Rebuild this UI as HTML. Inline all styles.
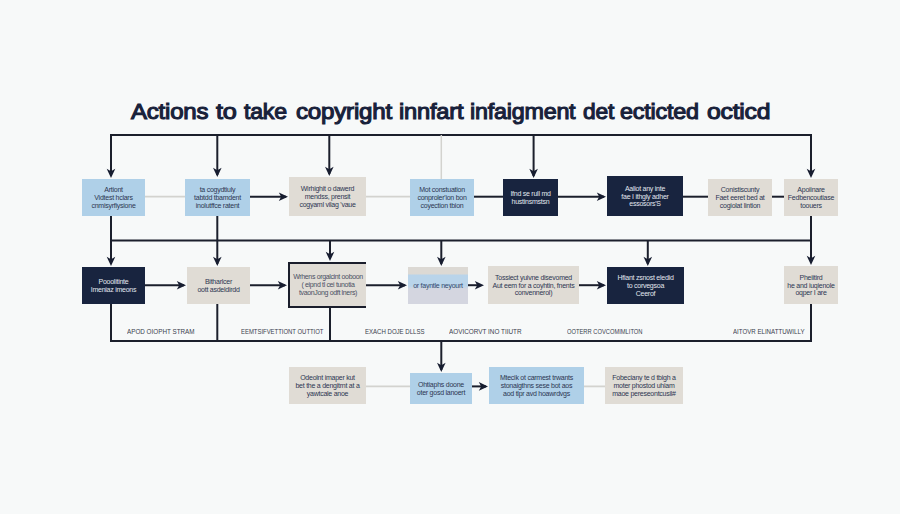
<!DOCTYPE html>
<html><head><meta charset="utf-8"><style>
html,body{margin:0;padding:0;}
body{width:900px;height:514px;background:#f7f9f9;position:relative;overflow:hidden;font-family:"Liberation Sans",sans-serif;}
.tw{position:absolute;top:97px;font-size:22px;letter-spacing:-0.2px;font-weight:normal;-webkit-text-stroke:1.1px #18213a;line-height:30px;color:#18213a;white-space:nowrap;transform-origin:0 0;}
.b{position:absolute;box-sizing:border-box;padding-top:1px;display:flex;flex-direction:column;justify-content:center;align-items:center;font-size:7px;line-height:7.8px;letter-spacing:-0.25px;color:#2d3652;white-space:nowrap;}
.lb{position:absolute;top:327px;height:9px;font-size:7.5px;line-height:9px;color:#3a3e4e;white-space:nowrap;transform-origin:0 0;}
svg{position:absolute;left:0;top:0;}
</style></head><body>
<svg width="900" height="514" viewBox="0 0 900 514"><line x1="110" y1="135" x2="812" y2="135" stroke="#1b1f2c" stroke-width="2"/><line x1="111" y1="134" x2="111" y2="176" stroke="#1b1f2c" stroke-width="2"/><path d="M111.0 178.0 L106.7 168.8 L111.0 171.2 L115.3 168.8 Z" fill="#171d30"/><line x1="217.3" y1="134" x2="217.3" y2="175" stroke="#1b1f2c" stroke-width="2"/><path d="M217.3 177.0 L213.0 167.8 L217.3 170.2 L221.6 167.8 Z" fill="#171d30"/><line x1="329.3" y1="134" x2="329.3" y2="174" stroke="#1b1f2c" stroke-width="2"/><path d="M329.3 176.0 L325.0 166.8 L329.3 169.2 L333.6 166.8 Z" fill="#171d30"/><line x1="533.6" y1="134" x2="533.6" y2="176" stroke="#1b1f2c" stroke-width="2"/><path d="M533.6 178.0 L529.3 168.8 L533.6 171.2 L537.9 168.8 Z" fill="#171d30"/><line x1="811" y1="134" x2="811" y2="176" stroke="#1b1f2c" stroke-width="2"/><path d="M811.0 178.0 L806.7 168.8 L811.0 171.2 L815.3 168.8 Z" fill="#171d30"/><line x1="441.3" y1="135" x2="441.3" y2="179" stroke="#d3d3cf" stroke-width="1.5"/><line x1="145" y1="196.7" x2="185" y2="196.7" stroke="#d3d3cf" stroke-width="1.8"/><line x1="250" y1="196.7" x2="286" y2="196.7" stroke="#1b1f2c" stroke-width="2"/><path d="M288.0 196.7 L278.8 192.4 L281.2 196.7 L278.8 201.0 Z" fill="#171d30"/><line x1="366" y1="196.7" x2="410" y2="196.7" stroke="#d3d3cf" stroke-width="1.8"/><line x1="474" y1="196.7" x2="503" y2="196.7" stroke="#1b1f2c" stroke-width="2"/><line x1="558" y1="196.7" x2="604" y2="196.7" stroke="#1b1f2c" stroke-width="2"/><path d="M606.0 196.7 L596.8 192.4 L599.2 196.7 L596.8 201.0 Z" fill="#171d30"/><line x1="683" y1="196.7" x2="708" y2="196.7" stroke="#1b1f2c" stroke-width="2"/><line x1="772" y1="196.7" x2="784" y2="196.7" stroke="#1b1f2c" stroke-width="2"/><line x1="111" y1="216" x2="111" y2="264" stroke="#1b1f2c" stroke-width="2"/><path d="M111.0 266.0 L106.7 256.8 L111.0 259.2 L115.3 256.8 Z" fill="#171d30"/><line x1="217.3" y1="216" x2="217.3" y2="264" stroke="#1b1f2c" stroke-width="2"/><path d="M217.3 266.0 L213.0 256.8 L217.3 259.2 L221.6 256.8 Z" fill="#171d30"/><line x1="811" y1="216" x2="811" y2="263" stroke="#1b1f2c" stroke-width="2"/><path d="M811.0 265.0 L806.7 255.8 L811.0 258.2 L815.3 255.8 Z" fill="#171d30"/><line x1="110" y1="240.4" x2="812" y2="240.4" stroke="#1b1f2c" stroke-width="2"/><line x1="330" y1="240" x2="330" y2="259" stroke="#1b1f2c" stroke-width="2"/><path d="M330.0 261.0 L325.7 251.8 L330.0 254.2 L334.3 251.8 Z" fill="#171d30"/><line x1="441.3" y1="240" x2="441.3" y2="264" stroke="#1b1f2c" stroke-width="2"/><path d="M441.3 266.0 L437.0 256.8 L441.3 259.2 L445.6 256.8 Z" fill="#171d30"/><line x1="647.8" y1="240" x2="647.8" y2="264" stroke="#1b1f2c" stroke-width="2"/><path d="M647.8 266.0 L643.5 256.8 L647.8 259.2 L652.1 256.8 Z" fill="#171d30"/><line x1="145" y1="285.2" x2="184" y2="285.2" stroke="#1b1f2c" stroke-width="2"/><path d="M186.0 285.2 L176.8 280.9 L179.2 285.2 L176.8 289.5 Z" fill="#171d30"/><line x1="250" y1="285.2" x2="285" y2="285.2" stroke="#1b1f2c" stroke-width="2"/><path d="M287.0 285.2 L277.8 280.9 L280.2 285.2 L277.8 289.5 Z" fill="#171d30"/><line x1="366" y1="285.2" x2="405" y2="285.2" stroke="#1b1f2c" stroke-width="2"/><path d="M407.0 285.2 L397.8 280.9 L400.2 285.2 L397.8 289.5 Z" fill="#171d30"/><line x1="468" y1="285.2" x2="481" y2="285.2" stroke="#1b1f2c" stroke-width="2"/><path d="M484.0 285.2 L474.8 280.9 L477.2 285.2 L474.8 289.5 Z" fill="#171d30"/><line x1="579" y1="285.2" x2="604" y2="285.2" stroke="#1b1f2c" stroke-width="2"/><path d="M606.0 285.2 L596.8 280.9 L599.2 285.2 L596.8 289.5 Z" fill="#171d30"/><line x1="111" y1="304" x2="111" y2="342" stroke="#1b1f2c" stroke-width="2"/><line x1="217.3" y1="304" x2="217.3" y2="342" stroke="#1b1f2c" stroke-width="2"/><line x1="330" y1="304" x2="330" y2="342" stroke="#1b1f2c" stroke-width="2"/><line x1="811" y1="304" x2="811" y2="342" stroke="#1b1f2c" stroke-width="2"/><line x1="110" y1="341.1" x2="812" y2="341.1" stroke="#1b1f2c" stroke-width="2"/><line x1="441.3" y1="341" x2="441.3" y2="370" stroke="#1b1f2c" stroke-width="2"/><path d="M441.3 372.0 L437.0 362.8 L441.3 365.2 L445.6 362.8 Z" fill="#171d30"/><line x1="366" y1="386.4" x2="410" y2="386.4" stroke="#d3d3cf" stroke-width="1.8"/><line x1="472" y1="386.4" x2="486" y2="386.4" stroke="#1b1f2c" stroke-width="2"/><path d="M488.0 386.4 L478.8 382.1 L481.2 386.4 L478.8 390.7 Z" fill="#171d30"/><line x1="584" y1="386.4" x2="605" y2="386.4" stroke="#d3d3cf" stroke-width="1.8"/></svg>
<div class="tw" style="left:130.5px;transform:scaleX(1.0926)">Actions</div><div class="tw" style="left:216.1px;transform:scaleX(1.1474)">to</div><div class="tw" style="left:243.6px;transform:scaleX(1.0491)">take</div><div class="tw" style="left:295.6px;transform:scaleX(1.0964)">copyright</div><div class="tw" style="left:399.2px;transform:scaleX(1.0762)">innfart</div><div class="tw" style="left:470.0px;transform:scaleX(1.0591)">infaigment</div><div class="tw" style="left:582.6px;transform:scaleX(1.0339)">det</div><div class="tw" style="left:619.7px;transform:scaleX(1.0617)">ecticted</div><div class="tw" style="left:707.2px;transform:scaleX(1.1247)">octicd</div>

<div class="b" style="left:82px;top:179px;width:63px;height:37px;background:#afd0e8;color:#2d3652;"><span>Artiont</span><span>Vidtest hclars</span><span>cnmisyrfiysione</span></div>
<div class="b" style="left:185px;top:179px;width:65px;height:37px;background:#afd0e8;color:#2d3652;"><span>ta cogydtiuly</span><span>tabtdd tbamdent</span><span>inolutffce ratent</span></div>
<div class="b" style="left:289px;top:177px;width:77px;height:39px;background:#e0dcd5;color:#2d3652;"><span>Wirhighit o dawerd</span><span>mendss, prensit</span><span>cogyaml vilag 'vaue</span></div>
<div class="b" style="left:410px;top:179px;width:64px;height:37px;background:#afd0e8;color:#2d3652;"><span>Mot constuation</span><span>conproler'ion bon</span><span>coyection tbion</span></div>
<div class="b" style="left:503px;top:179px;width:55px;height:37px;background:#18243f;color:#e2e7ef;"><span>Ifnd se rull md</span><span>hustinsmstsn</span></div>
<div class="b" style="left:607px;top:176px;width:76px;height:40px;background:#18243f;color:#e2e7ef;"><span>Aaliot any inte</span><span>fae I ithgly adher</span><span>essosors'S</span></div>
<div class="b" style="left:708px;top:179px;width:64px;height:37px;background:#e0dcd5;color:#2d3652;"><span>Conistiscunty</span><span>Faet eeret bed at</span><span>cogiolat lintion</span></div>
<div class="b" style="left:784px;top:179px;width:54px;height:37px;background:#e0dcd5;color:#2d3652;"><span>Apoiinare</span><span>Fedbencoutiase</span><span>toouers</span></div>
<div class="b" style="left:82px;top:267px;width:63px;height:37px;background:#18243f;color:#e2e7ef;"><span>Pooolitinte</span><span>Imeniaz imeons</span></div>
<div class="b" style="left:187px;top:267px;width:63px;height:37px;background:#e0dcd5;color:#2d3652;"><span>Bitharlcer</span><span>oott asdeldirdd</span></div>
<div class="b" style="left:288px;top:262px;width:78px;height:46px;background:#e0dcd5;color:#2d3652;border:2px solid #1a1e2c;border-right:none;line-height:8px;letter-spacing:-0.35px;color:#4a5064;padding-top:0px"><span>Wrhens orgalcint ooboon</span><span>( eipnd tl cei tunotia</span><span>tvaonJong odft lners)</span></div>
<div class="b" style="left:408px;top:267px;width:60px;height:37px;background:#d5d6de;color:#2d3652;background:linear-gradient(#dcd9d4 0,#dcd9d4 7px,#b9d4ea 8px,#b9d4ea 19px,#d4d6e0 22px,#d4d6e0 100%);color:#34496a;padding-top:0px"><span>or fayntle neyourt</span></div>
<div class="b" style="left:488px;top:266px;width:91px;height:38px;background:#e0dcd5;color:#2d3652;"><span>Tossiect yuivne disevomed</span><span>Aut eem for a coyhtin, fnents</span><span>convennerol)</span></div>
<div class="b" style="left:607px;top:267px;width:77px;height:37px;background:#18243f;color:#e2e7ef;"><span>Hfiant zsnost eledid</span><span>to corvegsoa</span><span>Ceerof</span></div>
<div class="b" style="left:784px;top:266px;width:54px;height:38px;background:#e0dcd5;color:#2d3652;"><span>Pheiitird</span><span>he and iuqienole</span><span>oqper I are</span></div>
<div class="b" style="left:289px;top:367px;width:77px;height:37px;background:#e0dcd5;color:#2d3652;"><span>Odeolnt imaper kut</span><span>bet the a dengitrnt at a</span><span>yawtcale anoe</span></div>
<div class="b" style="left:410px;top:373px;width:62px;height:31px;background:#afd0e8;color:#2d3652;"><span>Ohtiaphs doone</span><span>oter gosd lanoert</span></div>
<div class="b" style="left:489px;top:367px;width:95px;height:37px;background:#afd0e8;color:#2d3652;"><span>Mtecik ot carmest trwants</span><span>stonaigthns sese bot aos</span><span>aod tlpr avd hoawrdvgs</span></div>
<div class="b" style="left:605px;top:367px;width:78px;height:37px;background:#e0dcd5;color:#2d3652;"><span>Fobeciany te d tbigh a</span><span>moter phostod uhiam</span><span>maoe pereseontcusil#</span></div>
<div class="lb" style="left:126.7px;transform:scaleX(0.8406)">APOD OIOPHT STRAM</div>
<div class="lb" style="left:240.7px;transform:scaleX(0.7898)">EEMTSIFVETTIONT OUTTIOT</div>
<div class="lb" style="left:364.7px;transform:scaleX(0.8064)">EXACH DOJE DLLSS</div>
<div class="lb" style="left:448.7px;transform:scaleX(0.8486)">AOVICORVT INO TIIUTR</div>
<div class="lb" style="left:566.7px;transform:scaleX(0.7688)">OOTERR COVCOMIMLITON</div>
<div class="lb" style="left:732.7px;transform:scaleX(0.8169)">AITOVR ELINATTUWILLY</div>
</body></html>
